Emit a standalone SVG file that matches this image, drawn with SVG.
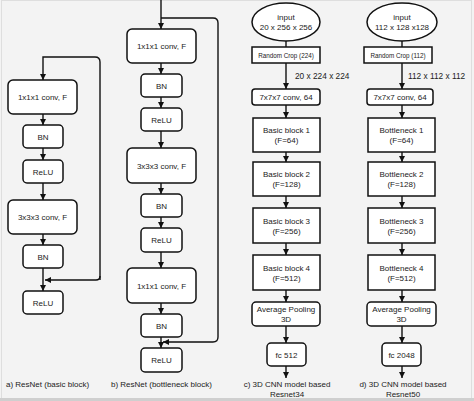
<svg xmlns="http://www.w3.org/2000/svg" width="474" height="401" viewBox="0 0 474 401">
<defs>
<style>
.b{fill:#fff;stroke:#111;stroke-width:1.5}
.t{font-family:"Liberation Sans",Arial,sans-serif;font-size:8px;fill:#222;text-anchor:middle}
.s{font-size:6.3px}
.l{text-anchor:start}
.c{fill:none;stroke:#111;stroke-width:1.4}
</style>
<marker id="ah" viewBox="0 0 10 10" refX="10" refY="5" markerWidth="6" markerHeight="6" orient="auto" markerUnits="userSpaceOnUse">
<path d="M0,0 L10,5 L0,10 z" fill="#111"/>
</marker>
</defs>
<rect x="0" y="0" width="474" height="401" fill="#f3f3f3"/>
<rect x="1.5" y="0.5" width="470" height="399" fill="none" stroke="#dedede" stroke-width="1"/>
<rect x="0" y="398" width="474" height="3" fill="#cfcfcf"/>

<g id="connectors" class="c">
<!-- panel a -->
<path d="M100,280 V62 Q100,57 95,57 H43 V80" marker-end="url(#ah)"/>
<line x1="43" y1="114" x2="43" y2="125" marker-end="url(#ah)"/>
<line x1="43" y1="148" x2="43" y2="160" marker-end="url(#ah)"/>
<line x1="43" y1="183" x2="43" y2="200" marker-end="url(#ah)"/>
<line x1="43" y1="234" x2="43" y2="245" marker-end="url(#ah)"/>
<line x1="43" y1="268" x2="43" y2="291" marker-end="url(#ah)"/>
<path d="M100,276 Q100,280 96,280 H45" marker-end="url(#ah)"/>
<!-- panel b -->
<line x1="161" y1="0" x2="161" y2="29" marker-end="url(#ah)"/>
<path d="M161,18 H213 Q218,18 218,23 V337 Q218,342 213,342 H163" marker-end="url(#ah)"/>
<line x1="161" y1="63" x2="161" y2="74" marker-end="url(#ah)"/>
<line x1="161" y1="97" x2="161" y2="108" marker-end="url(#ah)"/>
<line x1="161" y1="131" x2="161" y2="148" marker-end="url(#ah)"/>
<line x1="161" y1="183" x2="161" y2="194" marker-end="url(#ah)"/>
<line x1="161" y1="217" x2="161" y2="228" marker-end="url(#ah)"/>
<line x1="161" y1="252" x2="161" y2="268" marker-end="url(#ah)"/>
<line x1="161" y1="303" x2="161" y2="314" marker-end="url(#ah)"/>
<line x1="161" y1="337" x2="161" y2="348" marker-end="url(#ah)"/>
<!-- panel c -->
<line x1="286" y1="41" x2="286" y2="47"/>
<line x1="286" y1="63" x2="286" y2="89" marker-end="url(#ah)"/>
<line x1="286" y1="105" x2="286" y2="118" marker-end="url(#ah)"/>
<line x1="286" y1="152" x2="286" y2="162" marker-end="url(#ah)"/>
<line x1="286" y1="196" x2="286" y2="208" marker-end="url(#ah)"/>
<line x1="286" y1="243" x2="286" y2="255" marker-end="url(#ah)"/>
<line x1="286" y1="290" x2="286" y2="302" marker-end="url(#ah)"/>
<line x1="286" y1="326" x2="286" y2="343" marker-end="url(#ah)"/>
<line x1="286" y1="366" x2="286" y2="378" marker-end="url(#ah)"/>
<!-- panel d -->
<line x1="402" y1="41" x2="402" y2="47"/>
<line x1="402" y1="63" x2="402" y2="89" marker-end="url(#ah)"/>
<line x1="402" y1="105" x2="402" y2="118" marker-end="url(#ah)"/>
<line x1="402" y1="152" x2="402" y2="162" marker-end="url(#ah)"/>
<line x1="402" y1="196" x2="402" y2="208" marker-end="url(#ah)"/>
<line x1="402" y1="243" x2="402" y2="255" marker-end="url(#ah)"/>
<line x1="402" y1="290" x2="402" y2="302" marker-end="url(#ah)"/>
<line x1="402" y1="326" x2="402" y2="343" marker-end="url(#ah)"/>
<line x1="402" y1="366" x2="402" y2="378" marker-end="url(#ah)"/>
</g>

<!-- panel a nodes -->
<g id="a-conv1"><rect class="b" x="8" y="80" width="69" height="34" rx="5"/><text class="t" x="42.5" y="100">1x1x1 conv, F</text></g>
<g id="a-bn1"><rect class="b" x="23" y="125" width="40" height="23" rx="4"/><text class="t" x="43" y="139.5">BN</text></g>
<g id="a-relu1"><rect class="b" x="23" y="160" width="40" height="23" rx="4"/><text class="t" x="43" y="174.5">ReLU</text></g>
<g id="a-conv2"><rect class="b" x="8" y="200" width="69" height="34" rx="5"/><text class="t" x="42.5" y="220">3x3x3 conv, F</text></g>
<g id="a-bn2"><rect class="b" x="23" y="245" width="40" height="23" rx="4"/><text class="t" x="43" y="259.5">BN</text></g>
<g id="a-relu2"><rect class="b" x="23" y="291" width="40" height="23" rx="4"/><text class="t" x="43" y="305.5">ReLU</text></g>

<!-- panel b nodes -->
<g id="b-conv1"><rect class="b" x="127" y="29" width="69" height="34" rx="5"/><text class="t" x="161.5" y="49">1x1x1 conv, F</text></g>
<g id="b-bn1"><rect class="b" x="141" y="74" width="41" height="23" rx="4"/><text class="t" x="161.5" y="88.5">BN</text></g>
<g id="b-relu1"><rect class="b" x="141" y="108" width="41" height="23" rx="4"/><text class="t" x="161.5" y="122.5">ReLU</text></g>
<g id="b-conv2"><rect class="b" x="127" y="148" width="69" height="35" rx="5"/><text class="t" x="161.5" y="168.5">3x3x3 conv, F</text></g>
<g id="b-bn2"><rect class="b" x="141" y="194" width="41" height="23" rx="4"/><text class="t" x="161.5" y="208.5">BN</text></g>
<g id="b-relu2"><rect class="b" x="141" y="228" width="41" height="24" rx="4"/><text class="t" x="161.5" y="243">ReLU</text></g>
<g id="b-conv3"><rect class="b" x="127" y="268" width="69" height="35" rx="5"/><text class="t" x="161.5" y="288.5">1x1x1 conv, F</text></g>
<g id="b-bn3"><rect class="b" x="141" y="314" width="41" height="23" rx="4"/><text class="t" x="161.5" y="328.5">BN</text></g>
<g id="b-relu3"><rect class="b" x="141" y="348" width="41" height="24" rx="4"/><text class="t" x="161.5" y="363">ReLU</text></g>

<!-- panel c nodes -->
<g id="c-input"><ellipse class="b" cx="286" cy="22" rx="34" ry="19"/><text class="t" x="286" y="20">input</text><text class="t" x="286" y="30">20 x 256 x 256</text></g>
<g id="c-crop"><rect class="b" x="252" y="47" width="68" height="16"/><text class="t s" x="286" y="57.5">Random Crop (224)</text></g>
<text class="t l" x="295" y="79" style="font-size:8.3px">20 x 224 x 224</text>
<g id="c-conv"><rect class="b" x="252" y="89" width="68" height="16" rx="3"/><text class="t" x="286" y="100">7x7x7 conv, 64</text></g>
<g id="c-bb1"><rect class="b" x="253" y="118" width="67" height="34"/><text class="t" x="286.5" y="133">Basic block 1</text><text class="t" x="286.5" y="143">(F=64)</text></g>
<g id="c-bb2"><rect class="b" x="253" y="162" width="67" height="34"/><text class="t" x="286.5" y="177">Basic block 2</text><text class="t" x="286.5" y="187">(F=128)</text></g>
<g id="c-bb3"><rect class="b" x="253" y="208" width="67" height="35"/><text class="t" x="286.5" y="223.5">Basic block 3</text><text class="t" x="286.5" y="233.5">(F=256)</text></g>
<g id="c-bb4"><rect class="b" x="253" y="255" width="67" height="35"/><text class="t" x="286.5" y="270.5">Basic block 4</text><text class="t" x="286.5" y="280.5">(F=512)</text></g>
<g id="c-pool"><rect class="b" x="252" y="302" width="68" height="24" rx="4"/><text class="t" x="286" y="312">Average Pooling</text><text class="t" x="286" y="321.5">3D</text></g>
<g id="c-fc"><rect class="b" x="267" y="343" width="39" height="23" rx="4"/><text class="t" x="286.5" y="357.5">fc 512</text></g>

<!-- panel d nodes -->
<g id="d-input"><ellipse class="b" cx="402" cy="22" rx="35" ry="19"/><text class="t" x="402" y="20">input</text><text class="t" x="402" y="30">112 x 128 x128</text></g>
<g id="d-crop"><rect class="b" x="364" y="47" width="68" height="16"/><text class="t s" x="398" y="57.5">Random Crop (112)</text></g>
<text class="t l" x="408" y="79" style="font-size:8.3px">112 x 112 x 112</text>
<g id="d-conv"><rect class="b" x="367" y="89" width="66" height="16" rx="3"/><text class="t" x="400" y="100">7x7x7 conv, 64</text></g>
<g id="d-bn1"><rect class="b" x="368" y="118" width="67" height="34"/><text class="t" x="401.5" y="133">Bottleneck 1</text><text class="t" x="401.5" y="143">(F=64)</text></g>
<g id="d-bn2"><rect class="b" x="368" y="162" width="67" height="34"/><text class="t" x="401.5" y="177">Bottleneck 2</text><text class="t" x="401.5" y="187">(F=128)</text></g>
<g id="d-bn3"><rect class="b" x="368" y="208" width="67" height="35"/><text class="t" x="401.5" y="223.5">Bottleneck 3</text><text class="t" x="401.5" y="233.5">(F=256)</text></g>
<g id="d-bn4"><rect class="b" x="368" y="255" width="67" height="35"/><text class="t" x="401.5" y="270.5">Bottleneck 4</text><text class="t" x="401.5" y="280.5">(F=512)</text></g>
<g id="d-pool"><rect class="b" x="367" y="302" width="69" height="24" rx="4"/><text class="t" x="401.5" y="312">Average Pooling</text><text class="t" x="401.5" y="321.5">3D</text></g>
<g id="d-fc"><rect class="b" x="382" y="343" width="39" height="23" rx="4"/><text class="t" x="401.5" y="357.5">fc 2048</text></g>

<g id="captions">
<text class="t l" x="6" y="387">a) ResNet (basic block)</text>
<text class="t l" x="111" y="387">b) ResNet (bottleneck block)</text>
<text class="t" x="287" y="387">c) 3D CNN model based</text>
<text class="t" x="287" y="396.5">Resnet34</text>
<text class="t" x="403" y="387">d) 3D CNN model based</text>
<text class="t" x="403" y="396.5">Resnet50</text>
</g>
</svg>
